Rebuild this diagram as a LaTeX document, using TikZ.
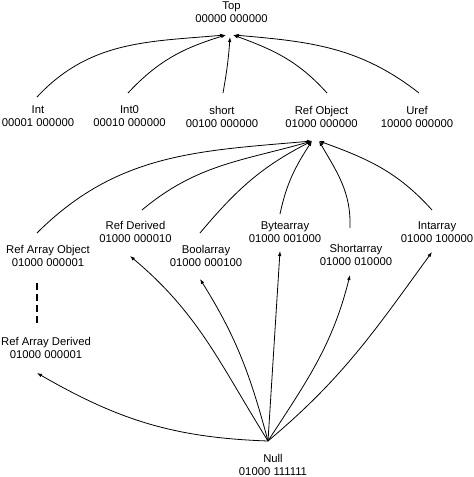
\documentclass[tikz,border=0pt]{standalone}
\usepackage{fontspec}
\setmainfont{Liberation Sans}
\usetikzlibrary{arrows.meta}
\begin{document}
\begin{tikzpicture}[x=1pt,y=1pt,
  lbl/.style={align=center,inner sep=0pt,font=\fontsize{11.3}{13}\selectfont},
  arr/.style={-{Latex[length=5pt,width=3.6pt]},line width=0.8pt},
  dsh/.style={line width=1.8pt,dash pattern=on 7pt off 4pt}]
\useasboundingbox (0,0) rectangle (474,-477);
% nodes
\node[lbl] (top)       at (231.5,-12.5) {Top\\00000 000000};
\node[lbl] (int)       at (38,-116.5)   {Int\\00001 000000};
\node[lbl] (int0)      at (129.5,-116.5){Int0\\00010 000000};
\node[lbl] (short)     at (222,-116.5)  {short\\00100 000000};
\node[lbl] (refobj)    at (321.5,-116.5){Ref Object\\01000 000000};
\node[lbl] (uref)      at (417,-116.5)  {Uref\\10000 000000};
\node[lbl] (refarrobj) at (48,-255.5)   {Ref Array Object\\01000 000001};
\node[lbl] (refder)    at (135.5,-232)  {Ref Derived\\01000 000010};
\node[lbl] (bool)      at (206,-256)    {Boolarray\\01000 000100};
\node[lbl] (byte)      at (285,-232)    {Bytearray\\01000 001000};
\node[lbl] (shortarr)  at (356,-255)    {Shortarray\\01000 010000};
\node[lbl] (intarr)    at (437,-232)    {Intarray\\01000 100000};
\node[lbl] (refarrder) at (46,-347.5)   {Ref Array Derived\\01000 000001};
\node[lbl] (null)      at (273,-464.5)  {Null\\01000 111111};
% edges to Top
\draw[arr] ([shift={(-1,19.5)}]int.center)    to[out=47,in=185]  ([shift={(-6.5,-22.5)}]top.center);
\draw[arr] ([shift={(-1.5,23.5)}]int0.center) to[out=47,in=197]  ([shift={(-5.5,-22.5)}]top.center);
\draw[arr] ([shift={(1,23.5)}]short.center)   to[out=80,in=-94]  ([shift={(-1.5,-24.5)}]top.center);
\draw[arr] ([shift={(5.5,23.5)}]refobj.center) to[out=132,in=-20] ([shift={(1.5,-22.5)}]top.center);
\draw[arr] ([shift={(2,23.5)}]uref.center)    to[out=142,in=-5]  ([shift={(2.5,-22.5)}]top.center);
% edges to Ref Object
\draw[arr] ([shift={(-11,22.5)}]refarrobj.center) to[out=45,in=185]  ([shift={(-9.5,-24.5)}]refobj.center);
\draw[arr] ([shift={(6.5,22)}]refder.center)      to[out=40,in=196]  ([shift={(-9.5,-24.5)}]refobj.center);
\draw[arr] ([shift={(-6,23)}]bool.center)         to[out=50,in=207]  ([shift={(-9.5,-24.5)}]refobj.center);
\draw[arr] ([shift={(-5,18)}]byte.center)         to[out=78,in=237]  ([shift={(-9.5,-24.5)}]refobj.center);
\draw[arr] ([shift={(-6,27)}]shortarr.center)     to[out=88,in=-60]  ([shift={(-2.5,-24.5)}]refobj.center);
\draw[arr] ([shift={(-5,22)}]intarr.center)       to[out=132,in=-20] ([shift={(-2.5,-24.5)}]refobj.center);
% dashed link
\draw[dsh] ([shift={(-11,-27.5)}]refarrobj.center) -- ([shift={(-9,22.5)}]refarrder.center);
% edges from Null
\draw[arr] ([shift={(-5,23.5)}]null.center) to[out=178,in=-30]  ([shift={(-9,-25.5)}]refarrder.center);
\draw[arr] ([shift={(-5,23.5)}]null.center) to[out=122,in=-40]  ([shift={(-5.5,-24)}]refder.center);
\draw[arr] ([shift={(-5,23.5)}]null.center) to[out=105,in=-58]  ([shift={(-6,-23)}]bool.center);
\draw[arr] ([shift={(-5,23.5)}]null.center) --                  ([shift={(-5,-19)}]byte.center);
\draw[arr] ([shift={(-5,23.5)}]null.center) to[out=57,in=-104]  ([shift={(-6,-20)}]shortarr.center);
\draw[arr] ([shift={(-5,23.5)}]null.center) to[out=40,in=-126]  ([shift={(-5,-20)}]intarr.center);
\end{tikzpicture}
\end{document}
